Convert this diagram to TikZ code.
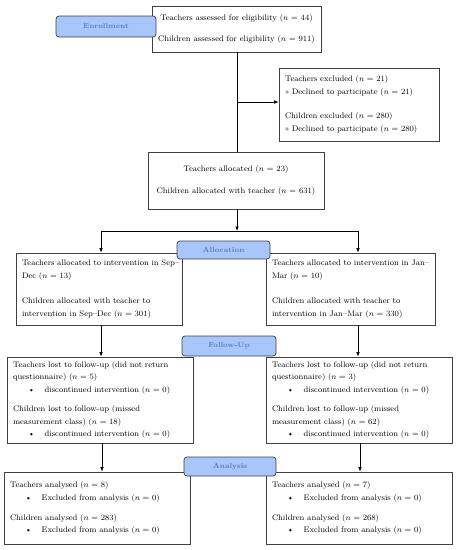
\documentclass[tikz,border=0pt]{standalone}
\usetikzlibrary{arrows.meta}
\definecolor{lblfill}{HTML}{A8C6FA}
\definecolor{lbltext}{HTML}{5A7EBF}
\definecolor{edgec}{HTML}{404040}
\newcommand{\bul}{\hspace*{15pt}\textbullet\hspace*{10pt}}
\newcommand{\circb}{{\color{gray!70}$\bullet$}\hspace*{2.5pt}}
\newcommand{\oneline}[1]{\mbox{#1}}
\begin{document}
\begin{tikzpicture}[x=1pt,y=-1pt,
  box/.style n args={2}{draw=edgec, line width=0.7pt, fill=white, inner xsep=6pt, inner ysep=0pt,
     text width=#1pt-12pt, minimum height=#2pt, align=left, font=\fontsize{8.1}{12.5}\selectfont},
  cbox/.style n args={2}{draw=edgec, line width=0.7pt, fill=white, inner sep=0pt,
     minimum width=#1pt, minimum height=#2pt, align=center, font=\fontsize{8.1}{12.5}\selectfont},
  lbl/.style n args={2}{draw=edgec, fill=lblfill, rounded corners=3pt, line width=0.7pt, inner sep=0pt,
     minimum width=#1pt, minimum height=#2pt, text=lbltext, font=\fontsize{7.2}{9}\selectfont\bfseries},
  conn/.style={draw=black, line width=0.7pt},
  arr/.style={conn, -{Latex[length=4.5pt,width=3.5pt]}}
]
\useasboundingbox (0,0) rectangle (457,550);

% boxes
\node[cbox={169}{46}] (enr) at (236.5,29)
  {Teachers assessed for eligibility ($n$ = 44)\\[8.5pt]Children assessed for eligibility ($n$ = 911)};
\node[box={160}{73}] (exc) at (359,104.5)
  {\oneline{Teachers excluded ($n$ = 21)}\\
   \oneline{\circb Declined to participate ($n$ = 21)}\\[12pt]
   \oneline{Children excluded ($n$ = 280)}\\
   \oneline{\circb Declined to participate ($n$ = 280)}};
\node[cbox={176}{57}] (alc) at (236,180.5)
  {Teachers allocated ($n$ = 23)\\[9.5pt]Children allocated with teacher ($n$ = 631)};

\node[box={166}{72}] (l1) at (99,289)
  {\oneline{Teachers allocated to intervention in Sep--}\\
   \oneline{Dec ($n$ = 13)}\\[13pt]
   \oneline{Children allocated with teacher to}\\
   \oneline{intervention in Sep--Dec ($n$ = 301)}};
\node[box={169}{72}] (r1) at (350.5,289)
  {\oneline{Teachers allocated to intervention in Jan--}\\
   \oneline{Mar ($n$ = 10)}\\[13pt]
   \oneline{Children allocated with teacher to}\\
   \oneline{intervention in Jan--Mar ($n$ = 330)}};

\node[box={186}{86}] (l2) at (100,400)
  {\oneline{Teachers lost to follow-up (did not return}\\
   \oneline{questionnaire) ($n$ = 5)}\\
   \oneline{\bul discontinued intervention ($n$ = 0)}\\[7pt]
   \oneline{Children lost to follow-up (missed}\\
   \oneline{measurement class) ($n$ = 18)}\\
   \oneline{\bul discontinued intervention ($n$ = 0)}};
\node[box={186}{86}] (r2) at (359,400)
  {\oneline{Teachers lost to follow-up (did not return}\\
   \oneline{questionnaire) ($n$ = 3)}\\
   \oneline{\bul discontinued intervention ($n$ = 0)}\\[7pt]
   \oneline{Children lost to follow-up (missed}\\
   \oneline{measurement class) ($n$ = 62)}\\
   \oneline{\bul discontinued intervention ($n$ = 0)}};

\node[box={186}{72}] (l3) at (97,508)
  {\oneline{Teachers analysed ($n$ = 8)}\\[1pt]
   \oneline{\bul Excluded from analysis ($n$ = 0)}\\[7pt]
   \oneline{Children analysed ($n$ = 283)}\\
   \oneline{\bul Excluded from analysis ($n$ = 0)}};
\node[box={186}{72}] (r3) at (359,508)
  {\oneline{Teachers analysed ($n$ = 7)}\\[1pt]
   \oneline{\bul Excluded from analysis ($n$ = 0)}\\[7pt]
   \oneline{Children analysed ($n$ = 268)}\\
   \oneline{\bul Excluded from analysis ($n$ = 0)}};

% connectors
\coordinate (br) at (237,102);
\coordinate (jn) at (237,231);
\coordinate (jl) at (101,231);
\coordinate (jr) at (358,231);
\coordinate (cl2) at (102,0);
\coordinate (cr2) at (360,0);
\draw[conn] (enr.south -| br) -- (alc.north -| br);
\draw[arr] (br) -- (exc.west |- br);
\draw[arr] (alc.south -| jn) -- (jn);
\draw[conn] (jl) -- (jr);
\draw[arr] (jl) -- (jl |- l1.north);
\draw[arr] (jr) -- (jr |- r1.north);
\draw[arr] (jl |- l1.south) -- (jl |- l2.north);
\draw[arr] (jr |- r1.south) -- (jr |- r2.north);
\draw[arr] (cl2 |- l2.south) -- (cl2 |- l3.north);
\draw[arr] (cr2 |- r2.south) -- (cr2 |- r3.north);

% stage labels
\node[lbl={100}{21}] (senr) at (106,26.5) {Enrollment};
\node[lbl={93}{18}] (salc) at (223.5,250) {Allocation};
\node[lbl={94}{20}] (sfol) at (229,346) {Follow-Up};
\node[lbl={92}{19}] (sana) at (230,466.5) {Analysis};
\end{tikzpicture}
\end{document}
